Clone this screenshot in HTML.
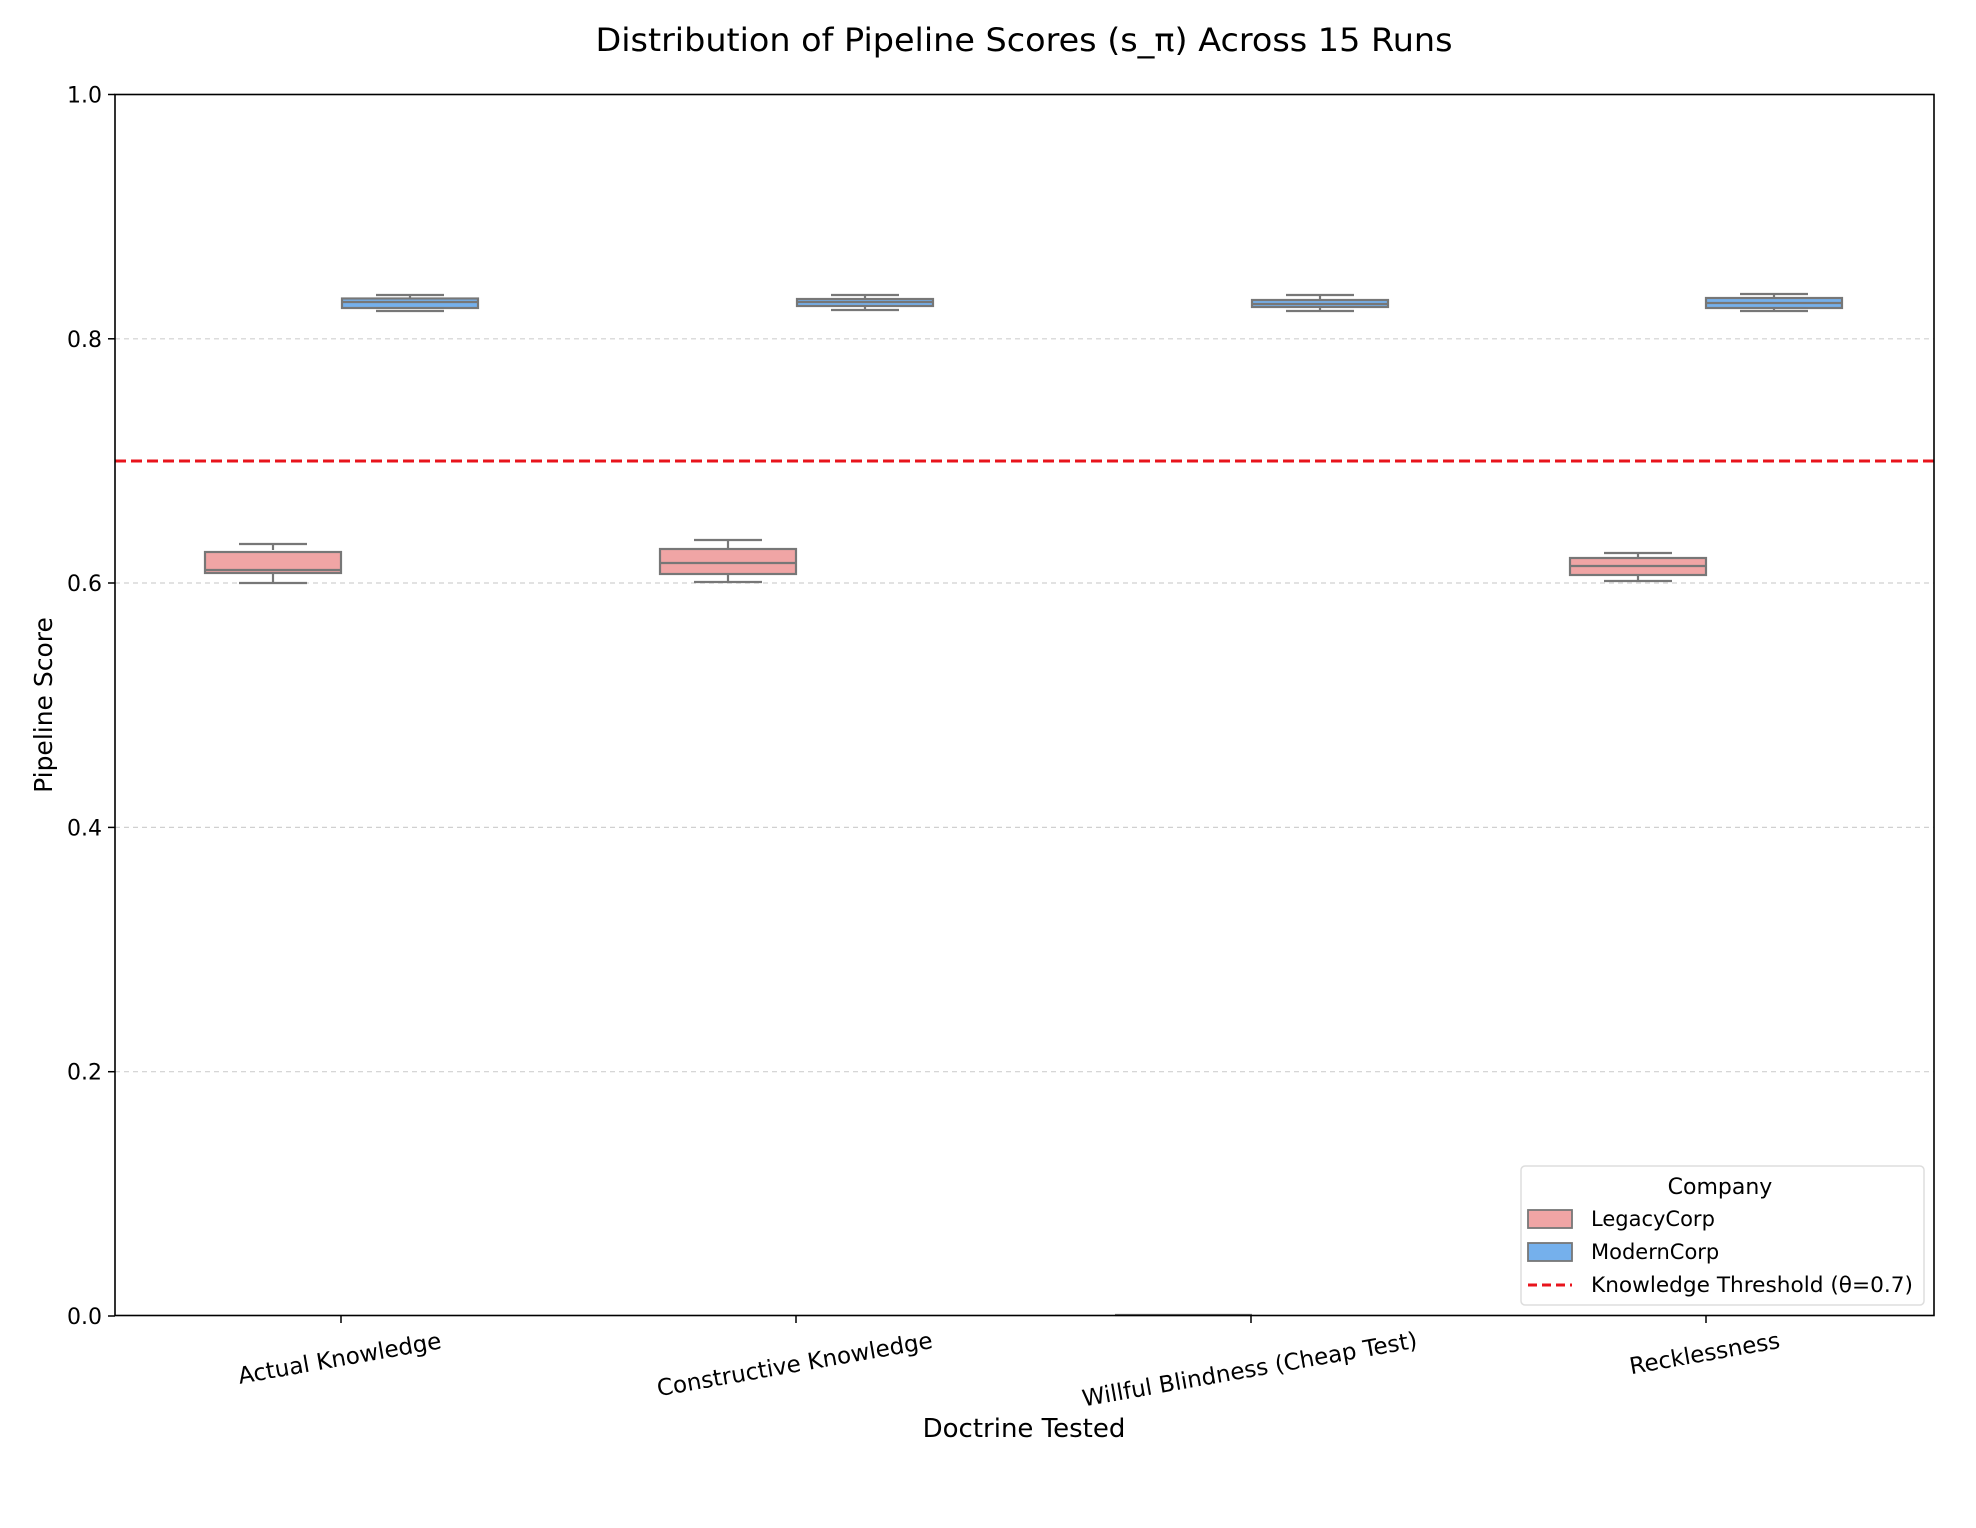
<!DOCTYPE html>
<html><head><meta charset="utf-8"><style>html,body{margin:0;padding:0;background:#fff}svg{display:block}</style></head><body>
<svg width="1976" height="1528" viewBox="0 0 1976 1528" xmlns="http://www.w3.org/2000/svg" font-family="DejaVu Sans, Liberation Sans, sans-serif">
<rect width="1976" height="1528" fill="#fff"/>
<text x="1024" y="51" font-size="32" text-anchor="middle" textLength="857" lengthAdjust="spacingAndGlyphs">Distribution of Pipeline Scores (s_π) Across 15 Runs</text>
<g stroke="#d0d0d0" stroke-width="1.2" stroke-dasharray="5,4">
<line x1="115" x2="1934" y1="338.8" y2="338.8"/>
<line x1="115" x2="1934" y1="583" y2="583"/>
<line x1="115" x2="1934" y1="827.4" y2="827.4"/>
<line x1="115" x2="1934" y1="1071.7" y2="1071.7"/>
</g>
<line x1="115" x2="1934" y1="461" y2="461" stroke="#e8141c" stroke-width="3" stroke-dasharray="11,5"/>
<g stroke="#777" stroke-width="2.2" fill="none">
<line x1="273" x2="273" y1="583" y2="556"/><line x1="273" x2="273" y1="550" y2="544"/>
<line x1="239" x2="307" y1="583" y2="583"/><line x1="239" x2="307" y1="544" y2="544"/>
<rect x="205" y="552" width="136" height="21" fill="#f0a5a5"/><line x1="205" x2="341" y1="570" y2="570"/>
<line x1="410" x2="410" y1="307" y2="301"/><line x1="410" x2="410" y1="298" y2="295"/>
<line x1="376" x2="444" y1="311" y2="311"/><line x1="376" x2="444" y1="295" y2="295"/>
<rect x="342" y="298.5" width="136" height="9.5" fill="#75b0ec"/><line x1="342" x2="478" y1="302" y2="302"/>
<line x1="728" x2="728" y1="582" y2="574"/><line x1="728" x2="728" y1="549" y2="540"/>
<line x1="694" x2="762" y1="582" y2="582"/><line x1="694" x2="762" y1="540" y2="540"/>
<rect x="660" y="549" width="136" height="25" fill="#f0a5a5"/><line x1="660" x2="796" y1="563" y2="563"/>
<line x1="865" x2="865" y1="306" y2="310"/><line x1="865" x2="865" y1="299" y2="295"/>
<line x1="831" x2="899" y1="310" y2="310"/><line x1="831" x2="899" y1="295" y2="295"/>
<rect x="797" y="299" width="136" height="7" fill="#75b0ec"/><line x1="797" x2="933" y1="302" y2="302"/>
<line x1="1115" x2="1252" y1="1315" y2="1315"/>
<line x1="1320" x2="1320" y1="307" y2="311"/><line x1="1320" x2="1320" y1="300" y2="295"/>
<line x1="1286" x2="1354" y1="311" y2="311"/><line x1="1286" x2="1354" y1="295" y2="295"/>
<rect x="1252" y="300" width="136" height="7" fill="#75b0ec"/><line x1="1252" x2="1388" y1="304" y2="304"/>
<line x1="1638" x2="1638" y1="581" y2="575"/><line x1="1638" x2="1638" y1="558" y2="553"/>
<line x1="1604" x2="1672" y1="581" y2="581"/><line x1="1604" x2="1672" y1="553" y2="553"/>
<rect x="1570" y="558" width="136" height="17" fill="#f0a5a5"/><line x1="1570" x2="1706" y1="566" y2="566"/>
<line x1="1774" x2="1774" y1="308" y2="311"/><line x1="1774" x2="1774" y1="298" y2="294"/>
<line x1="1740" x2="1808" y1="311" y2="311"/><line x1="1740" x2="1808" y1="294" y2="294"/>
<rect x="1706" y="298" width="136" height="10" fill="#75b0ec"/><line x1="1706" x2="1842" y1="303" y2="303"/>
</g>
<rect x="115" y="94.5" width="1819" height="1221" fill="none" stroke="#000" stroke-width="1.6"/>
<g stroke="#000" stroke-width="1.5">
<line x1="108" x2="115" y1="94.5" y2="94.5"/><line x1="108" x2="115" y1="338.8" y2="338.8"/><line x1="108" x2="115" y1="583" y2="583"/><line x1="108" x2="115" y1="827.4" y2="827.4"/><line x1="108" x2="115" y1="1071.7" y2="1071.7"/><line x1="108" x2="115" y1="1316" y2="1316"/>
<line x1="341" x2="341" y1="1316" y2="1323"/><line x1="796" x2="796" y1="1316" y2="1323"/><line x1="1251" x2="1251" y1="1316" y2="1323"/><line x1="1706" x2="1706" y1="1316" y2="1323"/>
</g>
<g font-size="22" text-anchor="end">
<text x="102" y="102.5">1.0</text><text x="102" y="346.8">0.8</text><text x="102" y="591">0.6</text><text x="102" y="835.4">0.4</text><text x="102" y="1079.7">0.2</text><text x="102" y="1324">0.0</text>
</g>
<g font-size="23" text-anchor="middle">
<text transform="translate(341,1366) rotate(-10)">Actual Knowledge</text>
<text transform="translate(796,1372) rotate(-10)">Constructive Knowledge</text>
<text transform="translate(1251,1377) rotate(-10)">Willful Blindness (Cheap Test)</text>
<text transform="translate(1706,1361) rotate(-10)">Recklessness</text>
</g>
<text x="1024" y="1437" font-size="26" text-anchor="middle">Doctrine Tested</text>
<text transform="translate(52,705) rotate(-90)" font-size="25" text-anchor="middle">Pipeline Score</text>
<rect x="1521" y="1166" width="403" height="139" rx="4" fill="#fff" fill-opacity="0.85" stroke="#ddd" stroke-width="1.5"/>
<text x="1720" y="1194" font-size="22" text-anchor="middle">Company</text>
<rect x="1528" y="1210" width="44" height="18" fill="#f0a5a5" stroke="#777" stroke-width="1.8"/>
<rect x="1528" y="1243" width="44" height="18" fill="#75b0ec" stroke="#777" stroke-width="1.8"/>
<line x1="1528" x2="1572" y1="1285" y2="1285" stroke="#e8141c" stroke-width="3" stroke-dasharray="9,5"/>
<g font-size="21">
<text x="1591" y="1226">LegacyCorp</text>
<text x="1591" y="1259">ModernCorp</text>
<text x="1591" y="1292" textLength="322" lengthAdjust="spacingAndGlyphs">Knowledge Threshold (θ=0.7)</text>
</g>
</svg>
</body></html>
